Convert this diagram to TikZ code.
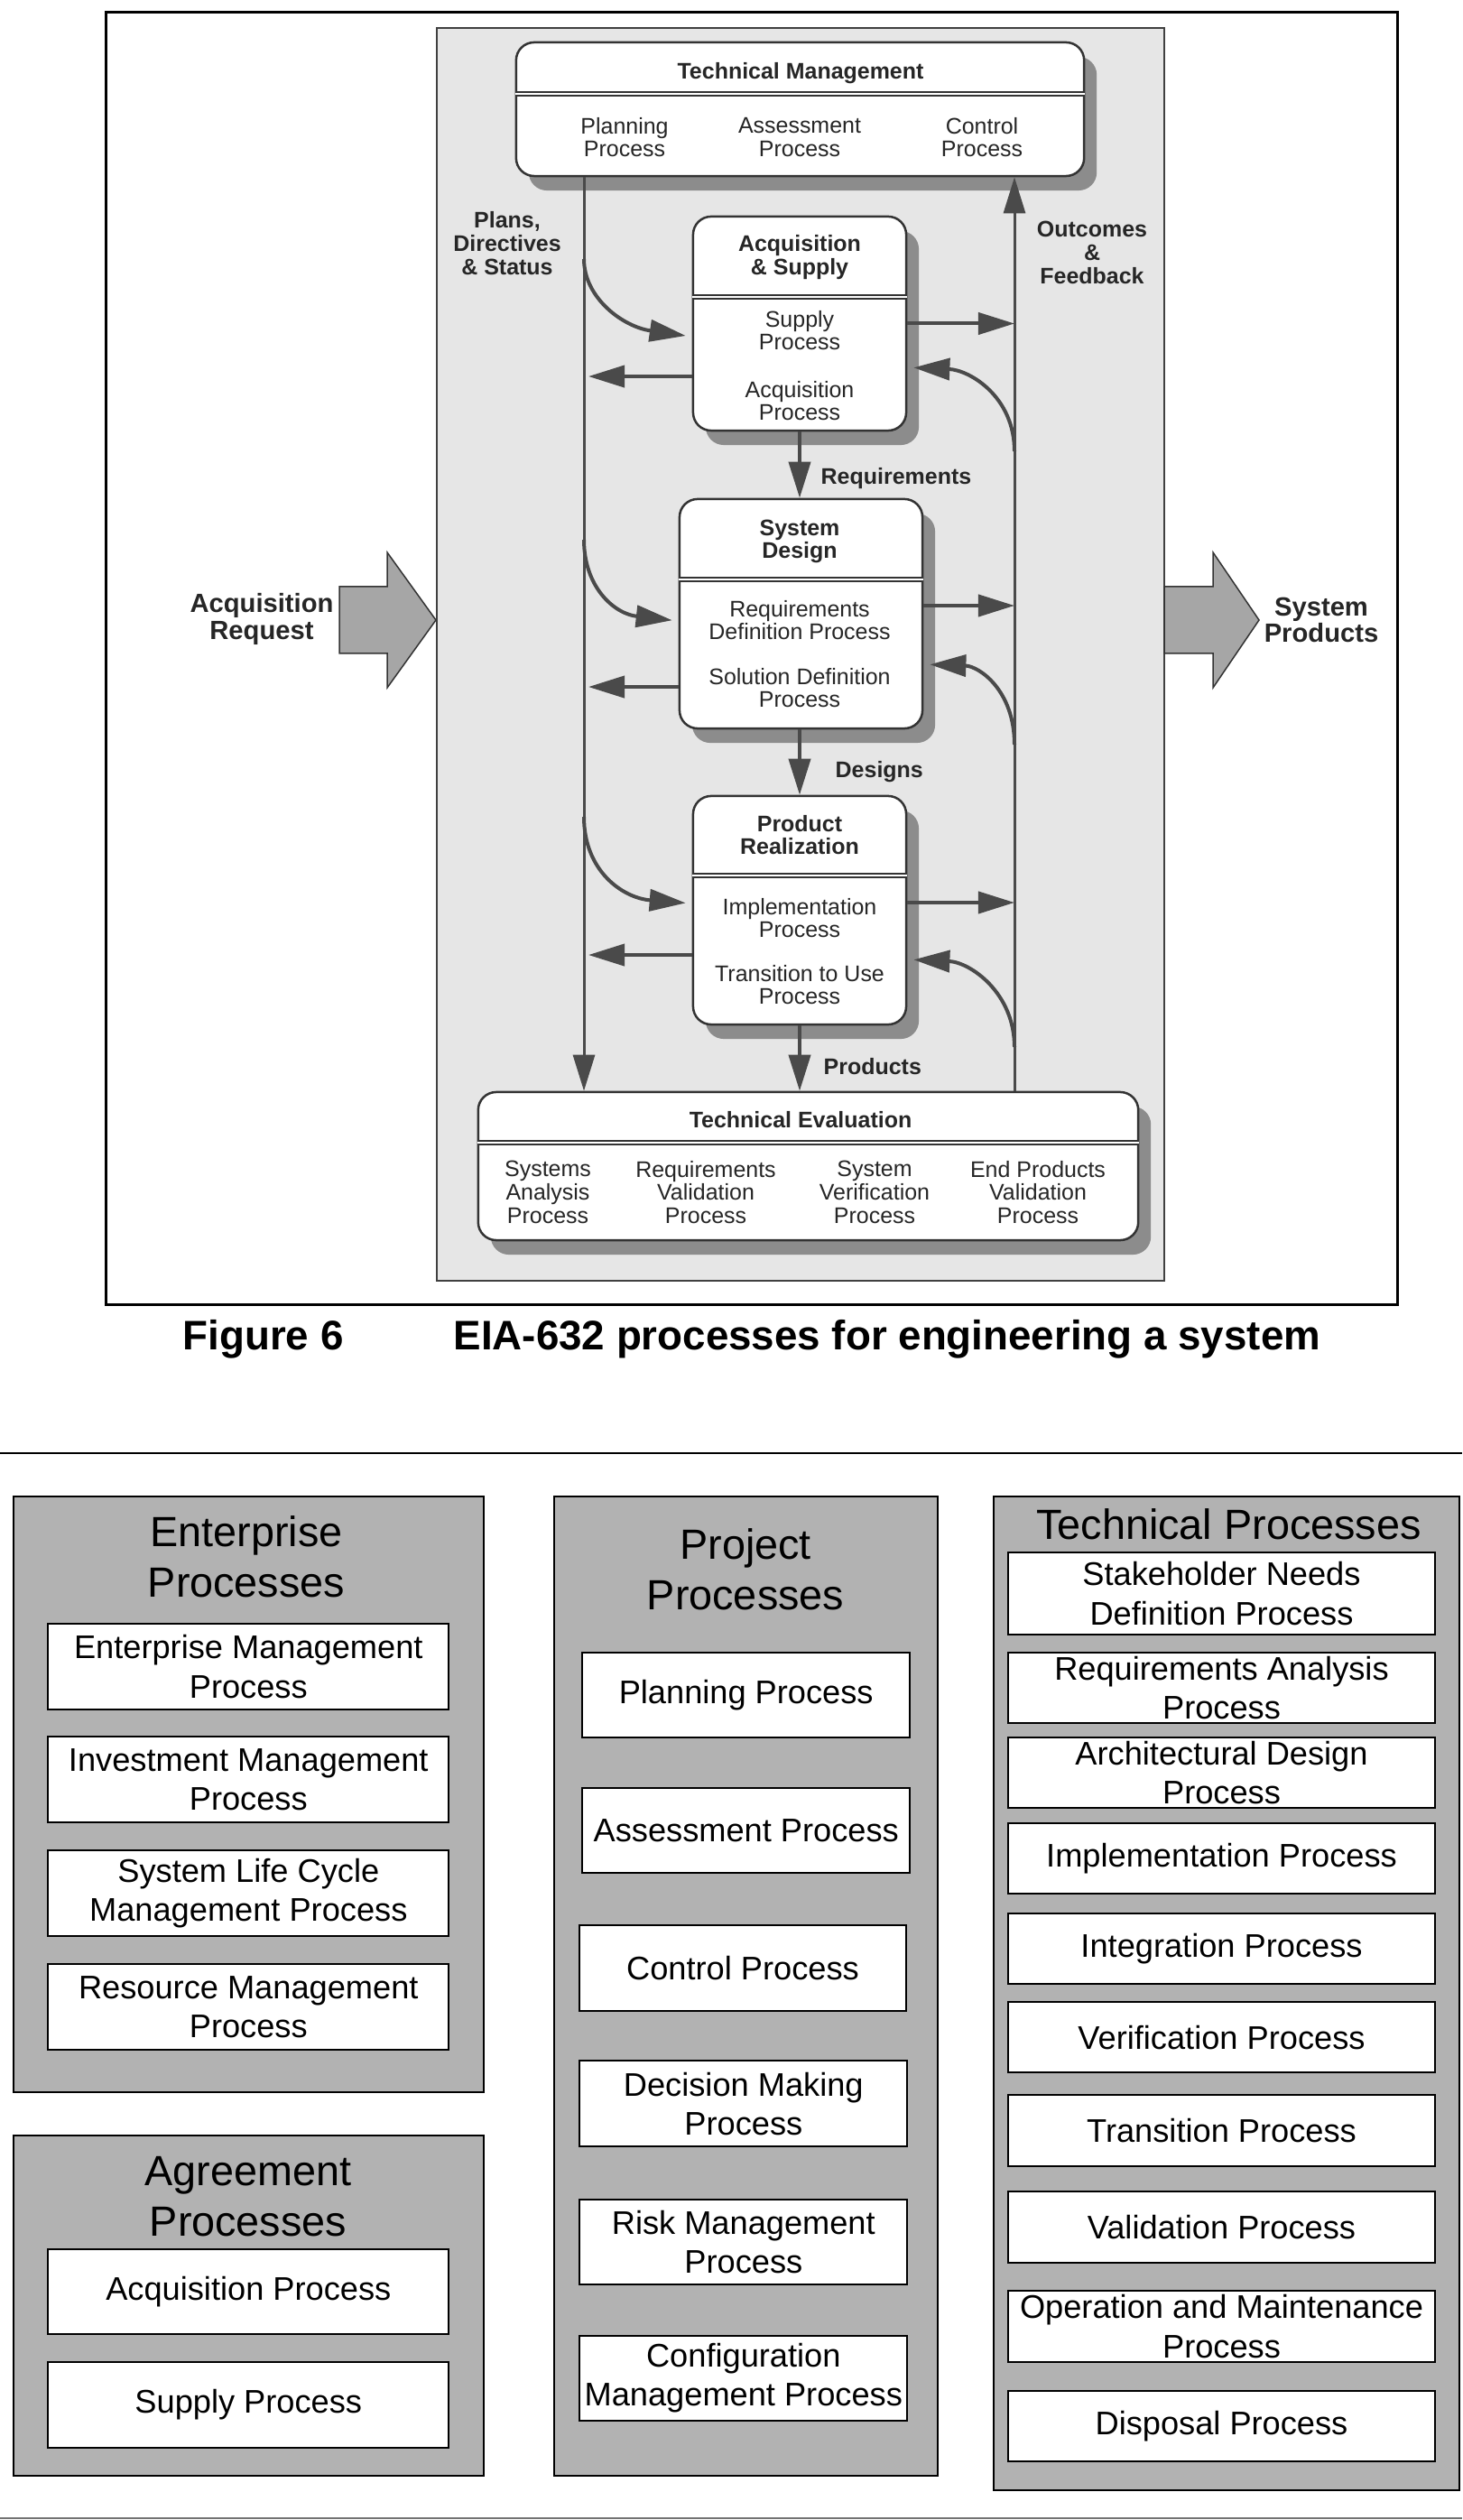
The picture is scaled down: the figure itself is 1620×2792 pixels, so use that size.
\documentclass[tikz,border=0pt]{standalone}
\usepackage{fontspec}
\setmainfont{Liberation Sans}
\usetikzlibrary{arrows.meta,shadows}
\definecolor{linegray}{HTML}{4A4A4A}
\definecolor{panelgray}{HTML}{E6E6E6}
\definecolor{shadowgray}{HTML}{8C8C8C}
\definecolor{blockgray}{HTML}{A6A6A6}
\definecolor{boxgray}{HTML}{B2B2B2}
\begin{document}
\begin{tikzpicture}[x=0.01cm,y=-0.01cm,
  txt/.style={font=\fontsize{7.1}{7.3}\selectfont,text=black!85,align=center,inner sep=0pt},
  btxt/.style={txt,font=\fontsize{7.1}{7.3}\selectfont\bfseries},
  side/.style={txt,font=\fontsize{8.3}{8.5}\selectfont\bfseries},
  stage/.style={draw=black!80,line width=0.025cm,fill=white,rounded corners=0.2cm,inner sep=0pt,
    drop shadow={shadow xshift=0.14cm,shadow yshift=-0.16cm,fill=shadowgray,opacity=1}},
  sep/.style={draw=black!80,line width=0.02cm,double=white,double distance=0.025cm},
  flow/.style={draw=linegray,line width=0.04cm,-{Triangle[length=0.4cm,width=0.24cm]}},
  rail/.style={draw=linegray,line width=0.03cm,-{Triangle[length=0.4cm,width=0.24cm]}},
  bigarrow/.style={fill=blockgray,draw=black!80,line width=0.015cm},
  group/.style={draw=black,line width=0.02cm,fill=boxgray,inner sep=0pt},
  head/.style={font=\fontsize{13.3}{15.8}\selectfont,align=center,inner sep=0pt},
  proc/.style={draw=black,line width=0.02cm,fill=white,align=center,inner sep=0pt,
    font=\fontsize{10.3}{12.3}\selectfont}]
\useasboundingbox (0,0) rectangle (1620,2792);

% upper figure: frame and panel
\draw[line width=0.03cm] (117,14) rectangle (1548,1445);
\draw[fill=panelgray,draw=black!75,line width=0.02cm] (484,31) rectangle (1290,1419);

% input and output
\draw[bigarrow] (376,650) -- (429,650) -- (429,612) -- (483,687) -- (429,762) -- (429,724) -- (376,724) -- cycle;
\draw[bigarrow] (1290,650) -- (1344,650) -- (1344,612) -- (1395,687) -- (1344,762) -- (1344,724) -- (1290,724) -- cycle;
\node[side] (acqreq) at (290,686) {Acquisition\\Request};
\node[side] (sysprod) at (1464,687) {System\\Products};

% process boxes
\node[stage,minimum width=6.29cm,minimum height=1.48cm] (tm) at (886.5,121) {};
\node[stage,minimum width=2.36cm,minimum height=2.37cm] (as) at (886,358.5) {};
\node[stage,minimum width=2.69cm,minimum height=2.54cm] (sd) at (887.5,680) {};
\node[stage,minimum width=2.36cm,minimum height=2.53cm] (pr) at (886,1008.5) {};
\node[stage,minimum width=7.31cm,minimum height=1.64cm] (te) at (895.5,1292) {};
\draw[sep] ([yshift=0.17cm]tm.west) -- ([yshift=0.17cm]tm.east);
\draw[sep] ([yshift=0.295cm]as.west) -- ([yshift=0.295cm]as.east);
\draw[sep] ([yshift=0.38cm]sd.west) -- ([yshift=0.38cm]sd.east);
\draw[sep] ([yshift=0.385cm]pr.west) -- ([yshift=0.385cm]pr.east);
\draw[sep] ([yshift=0.26cm]te.west) -- ([yshift=0.26cm]te.east);

% rails
\coordinate (lx) at (647,0);
\coordinate (rx) at (1124,0);
\draw[rail] (tm.south -| lx) -- (te.north -| lx);
\draw[rail] (te.north -| rx) -- (tm.south -| rx);

% flows down the middle
\draw[flow] (as.south) -- (as.south |- sd.north);
\draw[flow] (sd.south -| as.south) -- (pr.north);
\draw[flow] (pr.south) -- (pr.south |- te.north);

% outcomes to the right rail
\draw[flow] (as.east) -- (as.east -| rx);
\draw[flow] ([yshift=0.09cm]sd.east) -- ([yshift=0.09cm]sd.east -| rx);
\draw[flow] ([yshift=0.085cm]pr.east) -- ([yshift=0.085cm]pr.east -| rx);

% back to the left rail
\draw[flow,shorten >=0.05cm] ([yshift=-0.585cm]as.west) -- ([yshift=-0.585cm]as.west -| lx);
\draw[flow,shorten >=0.05cm] ([yshift=-0.81cm]sd.west) -- ([yshift=-0.81cm]sd.west -| lx);
\draw[flow,shorten >=0.05cm] ([yshift=-0.495cm]pr.west) -- ([yshift=-0.495cm]pr.west -| lx);

% plans from the left rail
\coordinate (lc1) at (647,287);
\coordinate (lc2) at (647,598);
\coordinate (lc3) at (647,905);
\draw[flow,shorten >=0.07cm] (lc1) .. controls (647,330) and (690,362) .. ([yshift=-0.145cm]as.west);
\draw[flow,shorten >=0.07cm] (lc2) .. controls (647,650) and (680,680) .. ([yshift=-0.08cm]sd.west);
\draw[flow,shorten >=0.07cm] (lc3) .. controls (647,965) and (690,995) .. ([yshift=0.075cm]pr.west);

% feedback from the right rail
\coordinate (rc1) at (1124,500);
\coordinate (rc2) at (1124,825);
\coordinate (rc3) at (1124,1160);
\draw[flow,shorten >=0.07cm] (rc1) .. controls (1124,440) and (1075,410) .. ([yshift=-0.485cm]as.east);
\draw[flow,shorten >=0.07cm] (rc2) .. controls (1124,765) and (1085,738) .. ([yshift=-0.56cm]sd.east);
\draw[flow,shorten >=0.07cm] (rc3) .. controls (1124,1100) and (1075,1066) .. ([yshift=-0.545cm]pr.east);

% labels
\node[btxt] (tmtitle) at (887,81) {Technical Management};
\node[txt] (tmplan) at (692,152) {Planning\\Process};
\node[txt] (tmassess) at (886,152) {Assessment\\Process};
\node[txt] (tmcontrol) at (1088,152) {Control\\Process};
\node[btxt] (astitle) at (886,285) {Acquisition\\\& Supply};
\node[txt] (assupply) at (886,366) {Supply\\Process};
\node[txt] (asacq) at (886,444) {Acquisition\\Process};
\node[btxt] (sdtitle) at (886,600) {System\\Design};
\node[txt] (sdreq) at (886,687) {Requirements\\Definition Process};
\node[txt] (sdsol) at (886,762) {Solution Definition\\Process};
\node[btxt] (prtitle) at (886,925) {Product\\Realization};
\node[txt] (primpl) at (886,1017) {Implementation\\Process};
\node[txt] (prtrans) at (886,1091) {Transition to Use\\Process};
\node[btxt] (tetitle) at (887,1241) {Technical Evaluation};
\node[txt] (tesys) at (607,1321) {Systems\\Analysis\\Process};
\node[txt] (tereq) at (782,1321) {Requirements\\Validation\\Process};
\node[txt] (tever) at (969,1321) {System\\Verification\\Process};
\node[txt] (teend) at (1150,1321) {End Products\\Validation\\Process};
\node[btxt] (plans) at (562,269.5) {Plans,\\Directives\\\& Status};
\node[btxt] (outcomes) at (1210,280) {Outcomes\\\&\\Feedback};
\node[btxt,anchor=west] (reqlbl) at (909,530) {Requirements};
\node[btxt,anchor=west] (deslbl) at (925,855) {Designs};
\node[btxt,anchor=west] (prodlbl) at (912,1182) {Products};

% caption
\node[font=\fontsize{13}{14}\selectfont\bfseries,anchor=west,inner sep=0pt] (fignum) at (202,1484) {Figure 6};
\node[font=\fontsize{13}{14}\selectfont\bfseries,anchor=west,inner sep=0pt] (figcap) at (502,1484) {EIA-632 processes for engineering a system};

% lower figure
\draw[line width=0.015cm] (0,1610) -- (1620,1610);
\draw[draw=black!55,line width=0.02cm] (0,2790) -- (1620,2790);

\node[group,minimum width=5.205cm,minimum height=6.6cm] (ent) at (275.75,1988) {};
\node[group,minimum width=5.205cm,minimum height=3.77cm] (agr) at (275.75,2554.5) {};
\node[group,minimum width=4.256cm,minimum height=10.85cm] (prj) at (826.5,2200.5) {};
\node[group,minimum width=5.156cm,minimum height=11.005cm] (tec) at (1359.2,2208.2) {};

\node[head] (enthead) at (273,1724.5) {Enterprise\\Processes};
\node[head] (agrhead) at (275,2433.5) {Agreement\\Processes};
\node[head] (prjhead) at (826,1739) {Project\\Processes};
\node[head] (techead) at (1361.5,1689) {Technical Processes};

\node[proc,minimum width=4.434cm,minimum height=0.95cm] (ent1) at (275.3,1846.5) {Enterprise Management\\Process};
\node[proc,minimum width=4.434cm,minimum height=0.95cm] (ent2) at (275.3,1971.8) {Investment Management\\Process};
\node[proc,minimum width=4.434cm,minimum height=0.95cm] (ent3) at (275.3,2097.8) {System Life Cycle\\Management Process};
\node[proc,minimum width=4.434cm,minimum height=0.95cm] (ent4) at (275.3,2223.5) {Resource Management\\Process};
\node[proc,minimum width=4.434cm,minimum height=0.945cm] (agr1) at (275.3,2538.8) {Acquisition Process};
\node[proc,minimum width=4.434cm,minimum height=0.945cm] (agr2) at (275.3,2664.3) {Supply Process};

\node[proc,minimum width=3.627cm,minimum height=0.943cm] (prj1) at (826.7,1877.8) {Planning Process};
\node[proc,minimum width=3.627cm,minimum height=0.943cm] (prj2) at (826.7,2027.8) {Assessment Process};
\node[proc,minimum width=3.626cm,minimum height=0.942cm] (prj3) at (823,2180.5) {Control Process};
\node[proc,minimum width=3.63cm,minimum height=0.945cm] (prj4) at (823.8,2330.7) {Decision Making\\Process};
\node[proc,minimum width=3.63cm,minimum height=0.945cm] (prj5) at (823.8,2484) {Risk Management\\Process};
\node[proc,minimum width=3.63cm,minimum height=0.937cm] (prj6) at (823.8,2634.8) {Configuration\\Management Process};

\node[proc,minimum width=4.73cm,minimum height=0.903cm] (tec1) at (1353.5,1765.6) {Stakeholder Needs\\Definition Process};
\node[proc,minimum width=4.73cm,minimum height=0.785cm] (tec2) at (1353.5,1869.9) {Requirements Analysis\\Process};
\node[proc,minimum width=4.73cm,minimum height=0.785cm] (tec3) at (1353.5,1964.2) {Architectural Design\\Process};
\node[proc,minimum width=4.73cm,minimum height=0.785cm] (tec4) at (1353.5,2058.8) {Implementation Process};
\node[proc,minimum width=4.73cm,minimum height=0.785cm] (tec5) at (1353.5,2159) {Integration Process};
\node[proc,minimum width=4.73cm,minimum height=0.785cm] (tec6) at (1353.5,2257.1) {Verification Process};
\node[proc,minimum width=4.73cm,minimum height=0.785cm] (tec7) at (1353.5,2360.3) {Transition Process};
\node[proc,minimum width=4.73cm,minimum height=0.785cm] (tec8) at (1353.5,2467.3) {Validation Process};
\node[proc,minimum width=4.73cm,minimum height=0.785cm] (tec9) at (1353.5,2577.4) {Operation and Maintenance\\Process};
\node[proc,minimum width=4.73cm,minimum height=0.785cm] (tec10) at (1353.5,2688) {Disposal Process};
\end{tikzpicture}
\end{document}
